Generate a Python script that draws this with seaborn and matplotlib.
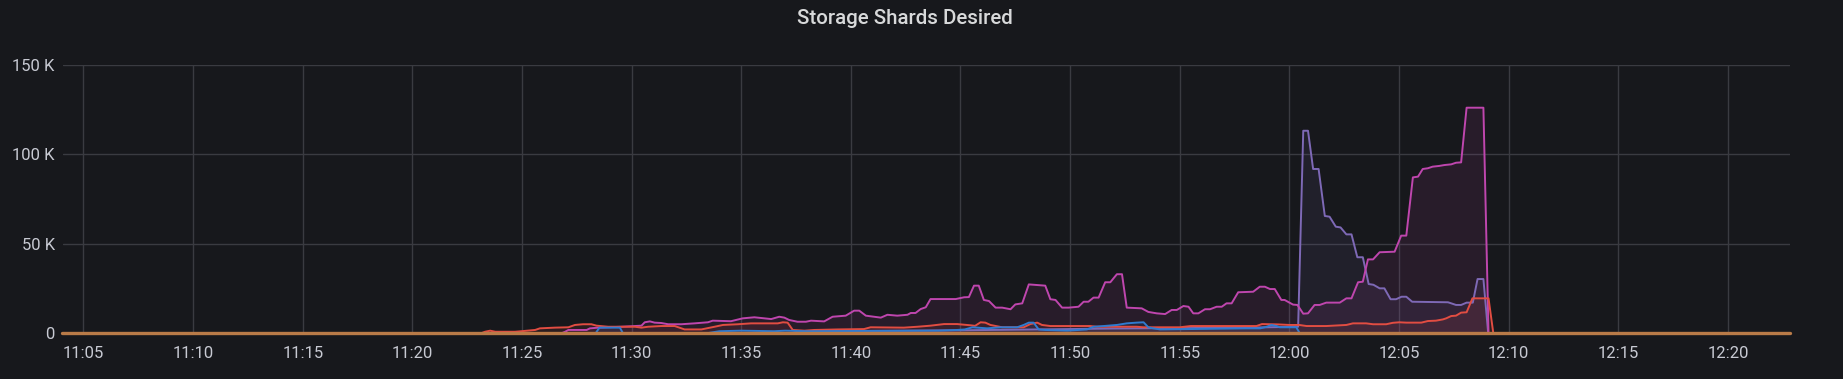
import numpy as np
import pandas as pd
import matplotlib
matplotlib.use("Agg")
import matplotlib.pyplot as plt
import matplotlib.dates as mdates
import seaborn as sns

# ---------------- data (values in thousands) ----------------
magenta_t = ["11:26:50","11:26:58","11:27:07","11:27:57","11:28:06","11:28:29","11:29:32","11:30:27","11:30:36","11:30:50",
             "11:31:03","11:31:21","11:31:40","11:32:16","11:32:52","11:33:29","11:33:42","11:33:56","11:34:32","11:35:04",
             "11:35:36","11:36:22","11:36:44","11:36:58","11:37:11","11:37:34","11:37:57","11:38:11","11:38:47","11:39:10",
             "11:39:46","11:40:09","11:40:23","11:40:41","11:41:04","11:41:22","11:41:40","11:42:07","11:42:35","11:42:44",
             "11:42:57","11:43:11","11:43:25","11:43:38","11:44:47","11:45:10","11:45:23","11:45:37","11:45:50","11:46:04",
             "11:46:18","11:46:36","11:46:54","11:47:17","11:47:30","11:47:49","11:48:07","11:48:25","11:48:52","11:49:06",
             "11:49:20","11:49:38","11:49:56","11:50:23","11:50:37","11:50:50","11:51:04","11:51:18","11:51:36","11:51:50",
             "11:52:08","11:52:22","11:52:35","11:53:16","11:53:34","11:53:57","11:54:20","11:54:38","11:54:52","11:55:10",
             "11:55:24","11:55:37","11:55:51","11:56:09","11:56:23","11:56:41","11:56:55","11:57:08","11:57:22","11:57:40",
             "11:58:21","11:58:39","11:58:53","11:59:07","11:59:20","11:59:38","11:59:47","12:00:10","12:00:22","12:00:38",
             "12:00:51","12:01:09","12:01:23","12:01:41","12:02:18","12:02:36","12:02:50","12:03:08","12:03:21","12:03:35",
             "12:03:49","12:04:07","12:04:48","12:05:06","12:05:20","12:05:38","12:05:52","12:06:05","12:06:19","12:06:32",
             "12:06:50","12:07:04","12:07:23","12:07:36","12:07:50","12:08:05","12:08:51","12:09:05"]
magenta_v = [0, 0.7, 1.7, 1.7, 2.6, 3.0, 3.5, 4.1, 6.0, 6.5,
             5.8, 5.6, 4.9, 4.9, 5.4, 6.0, 6.9, 6.8, 6.6, 8.2,
             8.8, 7.8, 9.1, 8.6, 7.3, 6.3, 6.3, 6.9, 6.5, 9.1,
             9.7, 12.5, 12.5, 9.7, 9.1, 8.6, 10.2, 9.7, 10.2, 11.2,
             11.2, 13.4, 14.4, 19.0, 19.0, 20.0, 20.1, 26.5, 26.5, 18.5,
             17.9, 14.2, 14.2, 13.3, 16.0, 16.6, 27.2, 26.9, 26.5, 18.9,
             18.5, 14.2, 14.2, 14.7, 17.5, 17.5, 19.8, 19.8, 28.4, 28.4,
             32.9, 32.9, 14.2, 13.8, 11.8, 11.0, 10.6, 12.9, 12.9, 15.1,
             14.7, 11.0, 11.0, 13.3, 13.3, 14.7, 14.7, 16.6, 16.6, 22.8,
             23.1, 25.9, 25.9, 24.6, 24.6, 18.5, 18.5, 15.9, 15.7, 10.8,
             11.0, 15.7, 15.7, 17.0, 17.0, 19.4, 19.4, 28.4, 28.7, 41.2,
             41.2, 45.2, 45.5, 54.5, 54.5, 87.1, 87.5, 91.8, 92.2, 93.1,
             93.5, 94.0, 94.4, 95.3, 95.5, 126.1, 126.1, 0]

purple_t = ["11:37:20","11:37:40","11:45:00","11:52:00","11:58:00","12:00:24","12:00:38","12:00:51","12:01:05","12:01:20",
            "12:01:37","12:01:50","12:02:07","12:02:20","12:02:36","12:02:50","12:03:06","12:03:21","12:03:37","12:03:50",
            "12:04:07","12:04:20","12:04:37","12:04:52","12:05:07","12:05:20","12:05:36","12:07:14","12:07:23","12:07:36",
            "12:07:50","12:08:05","12:08:22","12:08:35","12:08:51","12:09:04"]
purple_v = [0, 1.0, 1.5, 2.5, 3.0, 3.5, 113.2, 113.2, 91.8, 91.8,
            65.5, 65.1, 59.5, 59.1, 55.2, 55.2, 42.4, 42.4, 27.4, 27.0,
            25.0, 25.0, 18.9, 18.9, 20.3, 20.3, 17.5, 17.2, 16.6, 15.7,
            15.7, 17.0, 17.0, 30.2, 30.2, 0]

red_t = ["11:23:10","11:23:19","11:23:33","11:23:47","11:24:41","11:25:04","11:25:36","11:25:49","11:26:30","11:27:07",
         "11:27:25","11:27:47","11:28:10","11:28:24","11:28:56","11:30:09","11:30:27","11:30:45","11:31:21","11:31:58",
         "11:32:25","11:33:11","11:33:47","11:34:10","11:34:51","11:35:27","11:36:40","11:36:54","11:37:07","11:37:21",
         "11:37:53","11:38:20","11:39:24","11:40:36","11:40:54","11:42:25","11:43:02","11:43:38","11:44:15","11:44:51",
         "11:45:28","11:45:40","11:45:55","11:46:08","11:46:22","11:46:54","11:47:53","11:48:11","11:48:30","11:48:43",
         "11:49:06","11:50:55","11:51:13","11:53:02","11:53:20","11:55:00","11:55:30","11:58:30","11:58:45","11:59:30",
         "12:00:00","12:00:27","12:00:47","12:01:41","12:02:36","12:02:54","12:03:30","12:03:49","12:04:25","12:04:43",
         "12:05:01","12:05:20","12:06:01","12:06:19","12:06:41","12:07:00","12:07:09","12:07:23","12:07:36","12:07:50",
         "12:08:05","12:08:21","12:09:05","12:09:18"]
red_v = [0, 0.7, 1.3, 0.7, 0.7, 1.1, 1.7, 2.6, 3.0, 3.2,
         4.5, 4.9, 4.9, 4.1, 3.5, 3.5, 3.0, 3.5, 3.9, 3.9,
         2.0, 2.0, 3.5, 4.5, 4.9, 5.4, 5.4, 6.0, 5.8, 1.7,
         1.3, 1.7, 2.0, 2.2, 3.2, 3.0, 3.5, 4.1, 5.0, 5.0,
         4.3, 4.0, 6.0, 5.8, 4.5, 3.2, 3.2, 5.0, 5.8, 4.5,
         3.9, 3.9, 3.5, 3.5, 3.2, 3.2, 3.9, 3.9, 5.0, 4.8,
         4.5, 4.5, 3.9, 3.9, 4.5, 5.4, 5.4, 4.9, 4.9, 5.7,
         6.0, 5.8, 5.8, 6.7, 6.9, 7.6, 8.2, 9.5, 9.7, 11.4,
         11.6, 19.4, 19.4, 0]

blue_t = ["11:28:22","11:28:32","11:29:28","11:29:36","11:33:30","11:34:00","11:35:00","11:36:30","11:37:00","11:38:00",
          "11:44:00","11:44:51","11:45:12","11:45:33","11:46:13","11:46:50","11:47:35","11:47:53","11:48:07","11:48:20",
          "11:48:34","11:48:52","11:49:52","11:50:46","11:51:04","11:51:32","11:52:08","11:52:35","11:53:02","11:53:21",
          "11:53:34","11:53:48","11:54:06","11:58:03","11:58:40","11:58:58","11:59:11","11:59:25","11:59:34","12:00:19",
          "12:00:28"]
blue_v = [0, 3.0, 3.0, 0, 0, 1.0, 1.3, 1.0, 1.3, 1.0,
          1.3, 1.7, 2.0, 3.2, 2.6, 3.2, 3.2, 4.5, 5.8, 5.8,
          2.0, 1.7, 1.3, 2.0, 3.5, 3.9, 4.5, 5.4, 5.8, 6.0,
          3.2, 2.6, 2.0, 2.6, 2.6, 3.5, 4.5, 3.9, 3.2, 3.2,
          0]

orange_t = ["11:04:00", "12:22:50"]
orange_v = [0, 0]

series_names = ["purple", "magenta", "red", "blue", "orange"]
series_colors = {"purple": "#7e69b6", "magenta": "#BF46AE", "red": "#E24D42",
                 "blue": "#2f7bd0", "orange": "#b97b48"}

# ---------------- build frame ----------------
raw = {"purple": (purple_t, purple_v), "magenta": (magenta_t, magenta_v),
       "red": (red_t, red_v), "blue": (blue_t, blue_v), "orange": (orange_t, orange_v)}
frames = []
for name in series_names:
    t, v = raw[name]
    frames.append(pd.DataFrame({
        "time": pd.to_datetime(["2024-01-01 " + s for s in t]),
        "value": np.array(v) * 1000.0,
        "series": name}))
df = pd.concat(frames, ignore_index=True)

# ---------------- style ----------------
BG = "#17181c"
GRID = "#3a3b41"
TXT = "#c8cad3"
sns.set_theme(style="dark")
plt.rcParams["font.family"] = ["Roboto", "DejaVu Sans"]

W, H = 1843, 379
fig = plt.figure(figsize=(W / 100, H / 100), dpi=100, facecolor=BG)
ax = fig.add_axes([63 / W, 1 - 333 / H, (1790 - 63) / W, (333 - 65) / H])
ax.set_facecolor(BG)

for name in series_names[:-1]:
    d = df[df.series == name]
    ax.fill_between(d["time"], d["value"], 0, color=series_colors[name], alpha=0.1, lw=0, zorder=2)

sns.lineplot(data=df[df.series != "orange"], x="time", y="value", hue="series",
             hue_order=series_names[:-1], palette=series_colors, estimator=None,
             sort=False, legend=False, lw=1.4, ax=ax, zorder=3)
sns.lineplot(data=df[df.series == "orange"], x="time", y="value", color=series_colors["orange"],
             estimator=None, sort=False, legend=False, lw=2.4, ax=ax, zorder=4)
for ln in ax.lines:
    ln.set_clip_on(False)

ax.set_xlim(pd.Timestamp("2024-01-01 11:04:04"), pd.Timestamp("2024-01-01 12:22:50"))
ax.set_ylim(0, 150000)
ax.xaxis.set_major_locator(mdates.MinuteLocator(byminute=range(0, 60, 5)))
ax.xaxis.set_major_formatter(mdates.DateFormatter("%H:%M"))
yticks = [0, 50000, 100000, 150000]
ytick_labels = ["0", "50 K", "100 K", "150 K"]
ax.set_yticks(yticks)
ax.set_yticklabels(ytick_labels)
ax.set_xlabel("")
ax.set_ylabel("")
ax.grid(True, color=GRID, lw=1.0)
for s in ax.spines.values():
    s.set_visible(False)
ax.tick_params(axis="both", length=0, colors=TXT, labelsize=12)
ax.tick_params(axis="y", pad=6)
ax.tick_params(axis="x", pad=9)

fig.text(905 / W, 1 - 19 / H, "Storage Shards Desired", ha="center", va="center",
         fontsize=14.8, color="#d8d9da", fontweight="medium")

fig.savefig("out.png", dpi=100, facecolor=BG)
